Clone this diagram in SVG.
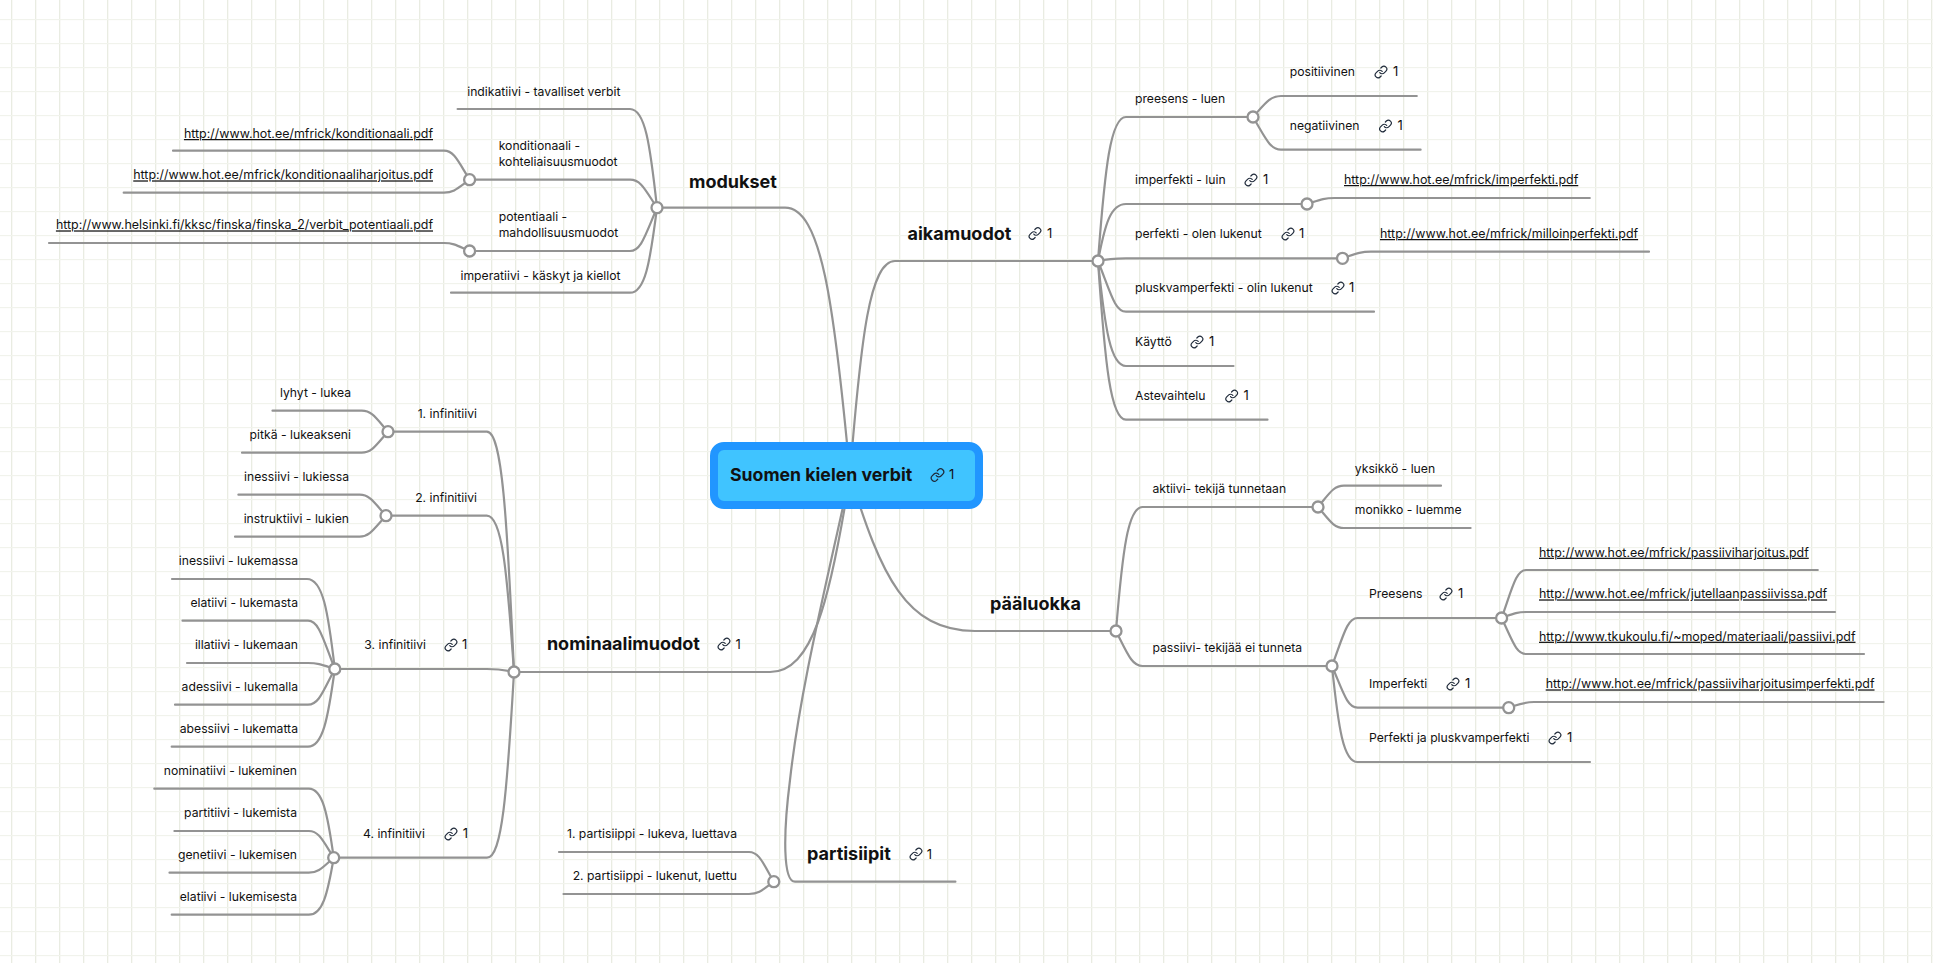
<svg xmlns="http://www.w3.org/2000/svg" width="1933" height="963" viewBox="0 0 1933 963">
<style>
text{font-family:Inter,"Noto Sans","Liberation Sans",sans-serif;fill:#111}
.s{font-size:12.2px;transform:translateY(.7px)}
.n{font-size:13px;transform:translateY(.7px)}
.b{font-size:18px;font-weight:700}
.r{font-size:17.7px;font-weight:700}
.e{text-anchor:end}
.u{font-size:12.45px;text-decoration:underline}
.h{fill:#fff;stroke:#939393;stroke-width:2.3}
#connectors path{fill:none;stroke:#939393;stroke-width:2.2;stroke-linecap:round}
</style>
<defs>
<pattern id="grid" patternUnits="userSpaceOnUse" width="24" height="24" x="0" y="0">
<rect x="11" y="0" width="1.3" height="24" fill="#e9ece2"/>
<rect x="0" y="19" width="24" height="1.2" fill="#f1f3ec"/>
</pattern>
<symbol id="link" viewBox="0 0 24 24"><g fill="none" stroke="#1f2a3a" stroke-width="2" stroke-linecap="round" stroke-linejoin="round"><path d="M10 13a5 5 0 0 0 7.54.54l3-3a5 5 0 0 0-7.07-7.07l-1.72 1.71"/><path d="M14 11a5 5 0 0 0-7.54-.54l-3 3a5 5 0 0 0 7.07 7.07l1.71-1.71"/></g></symbol>
</defs>
<rect width="1933" height="963" fill="#fff"/>
<rect width="1933" height="963" fill="url(#grid)"/>
<g id="connectors">
<path d="M657 207.7H785C821 207.7 834 301 850 475"/>
<path d="M1098 261H895C870 261 861 336 850 475"/>
<path d="M1116 631H975C906 631 881 576 850 475"/>
<path d="M514 672H770C812 672 830 603 850 475"/>
<path d="M955.4 881.7H795C783 881.7 783 835 790 780C800 690 825 590 850 475"/>
<path d="M457.6 109H630C645 109 650 143.5 657 207.7"/>
<path d="M469.6 179.7H630C641 179.7 645 189.5 657 207.7"/>
<path d="M469.6 251H630C641 251 645 235.8 657 207.7"/>
<path d="M451 292.7H630C645 292.7 650 263 657 207.7"/>
<path d="M173 150.7H444C454 150.7 458 161 469.6 179.7"/>
<path d="M123.7 192.7H444C454 192.7 458 188 469.6 179.7"/>
<path d="M49 243H444C454 243 458 246 469.6 251"/>
<path d="M1253 117H1126C1110.6 117 1105 167 1098 261"/>
<path d="M1307 204H1126C1110.6 204 1105 224 1098 261"/>
<path d="M1342.5 258.3H1126C1110.6 258.3 1105 259.3 1098 261"/>
<path d="M1374 311.7H1126C1115 311.7 1111 294 1098 261"/>
<path d="M1233.5 366H1126C1110.6 366 1105 329 1098 261"/>
<path d="M1267.5 419.7H1126C1110.6 419.7 1105 364 1098 261"/>
<path d="M1416.8 96H1281C1270 96 1265.6 103 1253 117"/>
<path d="M1420.6 149.7H1281C1270 149.7 1265.6 138 1253 117"/>
<path d="M1589.8 198H1334.5C1323.5 198 1319.4 200 1307 204"/>
<path d="M1649 251.7H1371C1359.6 251.7 1355.3 254 1342.5 258.3"/>
<path d="M1318 507H1142.6C1128 507 1122.6 550 1116 631"/>
<path d="M1332 666H1142.6C1132 666 1127.6 654 1116 631"/>
<path d="M1441 485.7H1344C1333.6 485.7 1329.7 493 1318 507"/>
<path d="M1470.6 528H1344C1333.6 528 1329.7 520.6 1318 507"/>
<path d="M1501.6 618H1357.5C1347.3 618 1343.5 635 1332 666"/>
<path d="M1508.7 707.7H1357.5C1347.3 707.7 1343.5 693 1332 666"/>
<path d="M1590 762H1357.5C1343.5 762 1338.4 728.4 1332 666"/>
<path d="M1817.8 570H1526C1516.2 570 1512.6 587 1501.6 618"/>
<path d="M1835 612H1526C1516.2 612 1512.6 614 1501.6 618"/>
<path d="M1864 654H1526C1516.2 654 1512.6 641 1501.6 618"/>
<path d="M1883.6 702H1534C1524 702 1520 704 1508.7 707.7"/>
<path d="M388 431.7H486.8C502 431.7 507 515.8 514 672"/>
<path d="M386 515.7H486.8C502 515.7 507 570 514 672"/>
<path d="M334.8 669H486.8C500 669 505 670 514 672"/>
<path d="M333.7 857.7H487C502 857.7 507 792.7 514 672"/>
<path d="M272.5 410.7H361.7C372 410.7 376 418 388 431.7"/>
<path d="M242 452.7H361.7C372 452.7 376 445 388 431.7"/>
<path d="M238.4 494.7H359.7C369.6 494.7 373.8 502 386 515.7"/>
<path d="M235 536.7H359.7C369.6 536.7 373.8 529 386 515.7"/>
<path d="M172 579H307C322.7 579 328 610.5 334.8 669"/>
<path d="M182.5 620.7H308C318.7 620.7 322.7 637.6 334.8 669"/>
<path d="M187 663H308C318.7 663 322.7 665 334.8 669"/>
<path d="M175 704.7H308C318.7 704.7 322.7 692 334.8 669"/>
<path d="M171.7 746.7H308C322.7 746.7 328 719 334.8 669"/>
<path d="M154.3 788.7H308.8C322.5 788.7 327.5 812.8 333.7 857.7"/>
<path d="M174.4 831H308.8C318.8 831 322.5 840 333.7 857.7"/>
<path d="M169.5 872.7H308.8C318.8 872.7 322.5 867.5 333.7 857.7"/>
<path d="M171.7 914.7H308.8C322.5 914.7 327.5 894.6 333.7 857.7"/>
<path d="M559 852H749C759 852 762.6 862.4 773.8 881.7"/>
<path d="M563.5 894H749C759 894 762.6 890 773.8 881.7"/>
</g>
<g id="root"><rect x="714" y="446" width="265" height="59" rx="10" fill="#40c4ff" stroke="#2196ff" stroke-width="8"/><text class="r" x="730" y="481">Suomen kielen verbit</text><use href="#link" x="930" y="467.5" width="15" height="15"/><text class="n" x="949" y="478.5">1</text></g>

<g id="modukset"><circle class="h" cx="657" cy="207.7" r="5.5"/><text class="b" x="689" y="188">modukset</text></g>
<g id="indikatiivi"><text class="s e" x="620.5" y="95">indikatiivi - tavalliset verbit</text></g>
<g id="konditionaali"><circle class="h" cx="469.6" cy="179.7" r="5.5"/><text class="s" x="498.7" y="149.3">konditionaali -</text><text class="s" x="498.7" y="165.3">kohteliaisuusmuodot</text></g>
<g id="kond-1"><text class="s e u" x="433" y="137.3">http://www.hot.ee/mfrick/konditionaali.pdf</text></g>
<g id="kond-2"><text class="s e u" x="433" y="178.7">http://www.hot.ee/mfrick/konditionaaliharjoitus.pdf</text></g>
<g id="potentiaali"><circle class="h" cx="469.6" cy="251" r="5.5"/><text class="s" x="498.7" y="220.3">potentiaali -</text><text class="s" x="498.7" y="236.3">mahdollisuusmuodot</text></g>
<g id="pot-1"><text class="s e u" x="433" y="228.7">http://www.helsinki.fi/kksc/finska/finska_2/verbit_potentiaali.pdf</text></g>
<g id="imperatiivi"><text class="s e" x="620.5" y="279">imperatiivi - käskyt ja kiellot</text></g>

<g id="aikamuodot"><circle class="h" cx="1098" cy="261" r="5.5"/><text class="b" x="907.5" y="240">aikamuodot</text><use href="#link" x="1028" y="226.5" width="14" height="14"/><text class="n" x="1047" y="237">1</text></g>
<g id="preesens"><circle class="h" cx="1253" cy="117" r="5.5"/><text class="s" x="1135" y="102.7">preesens - luen</text></g>
<g id="positiivinen"><text class="s" x="1289.7" y="75.3">positiivinen</text><use href="#link" x="1374" y="65" width="14" height="14"/><text class="n" x="1393" y="75.3">1</text></g>
<g id="negatiivinen"><text class="s" x="1289.7" y="129.3">negatiivinen</text><use href="#link" x="1378.5" y="119" width="14" height="14"/><text class="n" x="1397.6" y="129.3">1</text></g>
<g id="imperfekti"><circle class="h" cx="1307" cy="204" r="5.5"/><text class="s" x="1135" y="183.3">imperfekti - luin</text><use href="#link" x="1244" y="173" width="14" height="14"/><text class="n" x="1263" y="183.3">1</text></g>
<g id="imperfekti-1"><text class="s u" x="1344" y="183.3">http://www.hot.ee/mfrick/imperfekti.pdf</text></g>
<g id="perfekti"><circle class="h" cx="1342.5" cy="258.3" r="5.5"/><text class="s" x="1135" y="237.3">perfekti - olen lukenut</text><use href="#link" x="1281" y="227" width="14" height="14"/><text class="n" x="1299" y="237.3">1</text></g>
<g id="perfekti-1"><text class="s u" x="1380" y="237.3">http://www.hot.ee/mfrick/milloinperfekti.pdf</text></g>
<g id="pluskvamperfekti"><text class="s" x="1135" y="291.7">pluskvamperfekti - olin lukenut</text><use href="#link" x="1331" y="281" width="14" height="14"/><text class="n" x="1349" y="291.7">1</text></g>
<g id="kaytto"><text class="s" x="1135" y="345.7">Käyttö</text><use href="#link" x="1190" y="335" width="14" height="14"/><text class="n" x="1209" y="345.7">1</text></g>
<g id="astevaihtelu"><text class="s" x="1135" y="399.3">Astevaihtelu</text><use href="#link" x="1224.7" y="389" width="14" height="14"/><text class="n" x="1243.4" y="399.3">1</text></g>

<g id="paaluokka"><circle class="h" cx="1116" cy="631" r="5.5"/><text class="b" x="990" y="610">pääluokka</text></g>
<g id="aktiivi"><circle class="h" cx="1318" cy="507" r="5.5"/><text class="s" x="1152.4" y="492.7">aktiivi- tekijä tunnetaan</text></g>
<g id="yksikko"><text class="s" x="1354.8" y="472">yksikkö - luen</text></g>
<g id="monikko"><text class="s" x="1354.8" y="513.7">monikko - luemme</text></g>
<g id="passiivi"><circle class="h" cx="1332" cy="666" r="5.5"/><text class="s" x="1152.4" y="651.7">passiivi- tekijää ei tunneta</text></g>
<g id="pass-preesens"><circle class="h" cx="1501.6" cy="618" r="5.5"/><text class="s" x="1369" y="597.7">Preesens</text><use href="#link" x="1439" y="587" width="14" height="14"/><text class="n" x="1458" y="597.7">1</text></g>
<g id="pp-1"><text class="s u" x="1539" y="556">http://www.hot.ee/mfrick/passiiviharjoitus.pdf</text></g>
<g id="pp-2"><text class="s u" x="1539" y="597.7">http://www.hot.ee/mfrick/jutellaanpassiivissa.pdf</text></g>
<g id="pp-3"><text class="s u" x="1539" y="640">http://www.tkukoulu.fi/~moped/materiaali/passiivi.pdf</text></g>
<g id="pass-imperfekti"><circle class="h" cx="1508.7" cy="707.7" r="5.5"/><text class="s" x="1369" y="687.7">Imperfekti</text><use href="#link" x="1446" y="677" width="14" height="14"/><text class="n" x="1465" y="687.7">1</text></g>
<g id="pi-1"><text class="s u" x="1545.7" y="687.7">http://www.hot.ee/mfrick/passiiviharjoitusimperfekti.pdf</text></g>
<g id="pass-perfekti"><text class="s" x="1369" y="741.7">Perfekti ja pluskvamperfekti</text><use href="#link" x="1548" y="731" width="14" height="14"/><text class="n" x="1567" y="741.7">1</text></g>

<g id="nominaalimuodot"><circle class="h" cx="514" cy="672" r="5.5"/><text class="b" x="546.9" y="650">nominaalimuodot</text><use href="#link" x="717" y="637" width="14" height="14"/><text class="n" x="735.5" y="648">1</text></g>
<g id="inf1"><circle class="h" cx="388" cy="431.7" r="5.5"/><text class="s e" x="477" y="417.7">1. infinitiivi</text></g>
<g id="lyhyt"><text class="s e" x="351" y="396.7">lyhyt - lukea</text></g>
<g id="pitka"><text class="s e" x="351" y="438.7">pitkä - lukeakseni</text></g>
<g id="inf2"><circle class="h" cx="386" cy="515.7" r="5.5"/><text class="s e" x="477" y="501.7">2. infinitiivi</text></g>
<g id="inessiivi2"><text class="s e" x="349" y="480.7">inessiivi - lukiessa</text></g>
<g id="instruktiivi"><text class="s e" x="349" y="522.7">instruktiivi - lukien</text></g>
<g id="inf3"><circle class="h" cx="334.8" cy="669" r="5.5"/><text class="s" x="364.3" y="648.7">3. infinitiivi</text><use href="#link" x="444" y="638" width="14" height="14"/><text class="n" x="462" y="648.7">1</text></g>
<g id="inessiivi3"><text class="s e" x="298" y="564.7">inessiivi - lukemassa</text></g>
<g id="elatiivi3"><text class="s e" x="298" y="606.7">elatiivi - lukemasta</text></g>
<g id="illatiivi3"><text class="s e" x="298" y="648.7">illatiivi - lukemaan</text></g>
<g id="adessiivi3"><text class="s e" x="298" y="690.7">adessiivi - lukemalla</text></g>
<g id="abessiivi3"><text class="s e" x="298" y="732.7">abessiivi - lukematta</text></g>
<g id="inf4"><circle class="h" cx="333.7" cy="857.7" r="5.5"/><text class="s" x="363" y="837.7">4. infinitiivi</text><use href="#link" x="444" y="827" width="14" height="14"/><text class="n" x="462.7" y="837.7">1</text></g>
<g id="nominatiivi4"><text class="s e" x="297" y="774.7">nominatiivi - lukeminen</text></g>
<g id="partitiivi4"><text class="s e" x="297" y="816.7">partitiivi - lukemista</text></g>
<g id="genetiivi4"><text class="s e" x="297" y="858.7">genetiivi - lukemisen</text></g>
<g id="elatiivi4"><text class="s e" x="297" y="900.7">elatiivi - lukemisesta</text></g>

<g id="partisiipit"><circle class="h" cx="773.8" cy="881.7" r="5.5"/><text class="b" x="807" y="860">partisiipit</text><use href="#link" x="909" y="847" width="14" height="14"/><text class="n" x="926.7" y="858">1</text></g>
<g id="part1"><text class="s e" x="737" y="837.7">1. partisiippi - lukeva, luettava</text></g>
<g id="part2"><text class="s e" x="737" y="879.7">2. partisiippi - lukenut, luettu</text></g>
</svg>
